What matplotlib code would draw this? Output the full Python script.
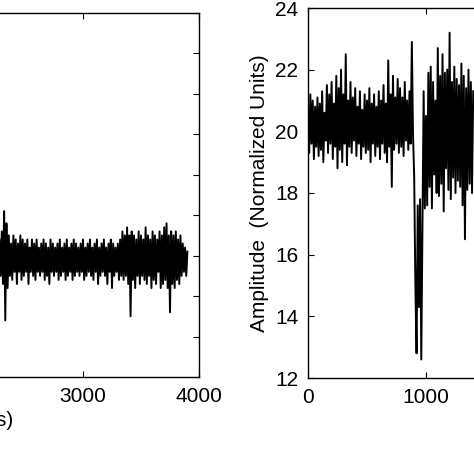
import matplotlib
matplotlib.use("Agg")
import matplotlib.pyplot as plt
import numpy as np

plt.rcParams['font.family'] = ['Liberation Sans', 'DejaVu Sans']

# Left panel (visible part), samples every 10 from 2280
left_x0 = 2280
left_vals = [3.4,2.5,3.6,2.3,4.1,1.4,3.8,2.2,3.5,2.5,
 3.3,2.4,3.5,2.6,3.4,2.3,3.3,2.6,3.5,2.4,
 3.4,2.5,3.3,2.6,3.4,2.3,3.2,2.6,3.4,2.5,
 3.3,2.4,3.4,2.6,3.2,2.5,3.3,2.6,3.4,2.4,
 3.3,2.5,3.2,2.3,3.4,2.6,3.3,2.5,3.2,2.6,
 3.3,2.4,3.4,2.5,3.2,2.6,3.3,2.4,3.4,2.5,
 3.2,2.6,3.3,2.4,3.4,2.5,3.3,2.6,3.2,2.5,
 3.3,2.6,3.4,2.4,3.2,2.5,3.3,2.6,3.4,2.5,
 3.2,2.4,3.3,2.6,3.4,2.3,3.2,2.5,3.3,2.6,
 3.4,2.5,3.2,2.3,3.3,2.6,3.4,2.2,3.3,2.5,
 3.2,2.6,3.3,2.4,3.4,2.5,3.6,2.4,3.5,2.5,
 3.7,2.3,3.5,1.5,3.6,2.4,3.5,2.2,3.4,2.5,
 3.6,2.3,3.5,2.5,3.4,2.4,3.7,2.3,3.5,2.5,
 3.4,2.2,3.6,2.4,3.5,2.3,3.4,2.6,3.6,2.2,
 3.5,2.3,3.7,2.4,3.8,2.2,3.5,1.6,3.6,2.3,
 3.5,2.2,3.6,2.4,3.4,2.3,3.5,2.5,3.3,2.6,
 3.2,2.5,3.1]

# Right panel, samples every 10 from 0
right_vals = [20.5,19.3,21.2,19.6,21.0,19.1,20.8,19.5,21.1,19.2,
 20.9,19.4,21.3,19.0,20.6,19.7,21.5,19.3,21.2,19.6,
 21.6,19.1,20.9,19.5,21.8,18.8,21.4,19.4,22.0,19.0,
 21.2,19.6,22.5,18.9,21.0,19.5,21.6,19.3,21.1,19.7,
 21.4,19.2,20.8,19.6,21.3,19.1,20.7,19.5,21.2,19.3,
 21.0,19.4,21.4,19.0,20.9,19.6,21.2,19.2,20.8,19.5,
 21.3,19.1,21.0,19.6,21.5,19.3,20.9,19.0,22.3,19.5,
 21.2,18.2,21.8,19.4,21.1,19.6,21.7,19.3,21.4,19.5,
 21.1,19.2,21.6,19.7,21.0,19.4,21.3,19.6,22.9,19.9,
 18.5,15.0,12.8,17.6,14.3,17.8,12.6,16.8,21.3,17.5,
 20.5,17.6,21.9,18.2,22.1,17.5,21.6,18.6,21.0,18.0,
 22.7,17.9,21.8,18.3,22.5,17.4,21.9,18.8,22.0,18.1,
 23.2,17.8,21.6,18.5,22.1,18.0,21.7,18.4,21.5,18.2,
 22.2,17.6,21.8,16.5,21.4,18.1,22.0,18.3,21.6,18.0,
 21.3]

W = 474
fig = plt.figure(figsize=(4.74, 4.74), dpi=100)

axL = fig.add_axes([-265/W, 1-377/W, 464/W, 364/W])
xl = left_x0 + 10*np.arange(len(left_vals))
axL.plot(xl, left_vals, color='black', lw=1.4)
axL.set_xlim(0, 4000)
axL.set_ylim(0, 9)
axL.set_xticks([0, 1000, 2000, 3000, 4000])
axL.set_yticks(range(10))
axL.set_yticklabels([])
axL.set_xlabel('Time (ms)', fontsize=15, labelpad=4)

axR = fig.add_axes([308/W, 1-378/W, 472/W, 370/W])
xr = 10*np.arange(len(right_vals))
axR.plot(xr, right_vals, color='black', lw=1.4)
axR.set_xlim(0, 4000)
axR.set_ylim(12, 24)
axR.set_xticks([0, 1000, 2000, 3000, 4000])
axR.set_yticks(range(12, 25, 2))
axR.set_ylabel('Amplitude  (Normalized Units)', fontsize=15, labelpad=4)

for ax in (axL, axR):
    ax.tick_params(direction='in', top=True, right=True, labelsize=15, length=4, pad=7)
    for s in ax.spines.values():
        s.set_linewidth(1.0)

fig.savefig('out.png', dpi=100)
